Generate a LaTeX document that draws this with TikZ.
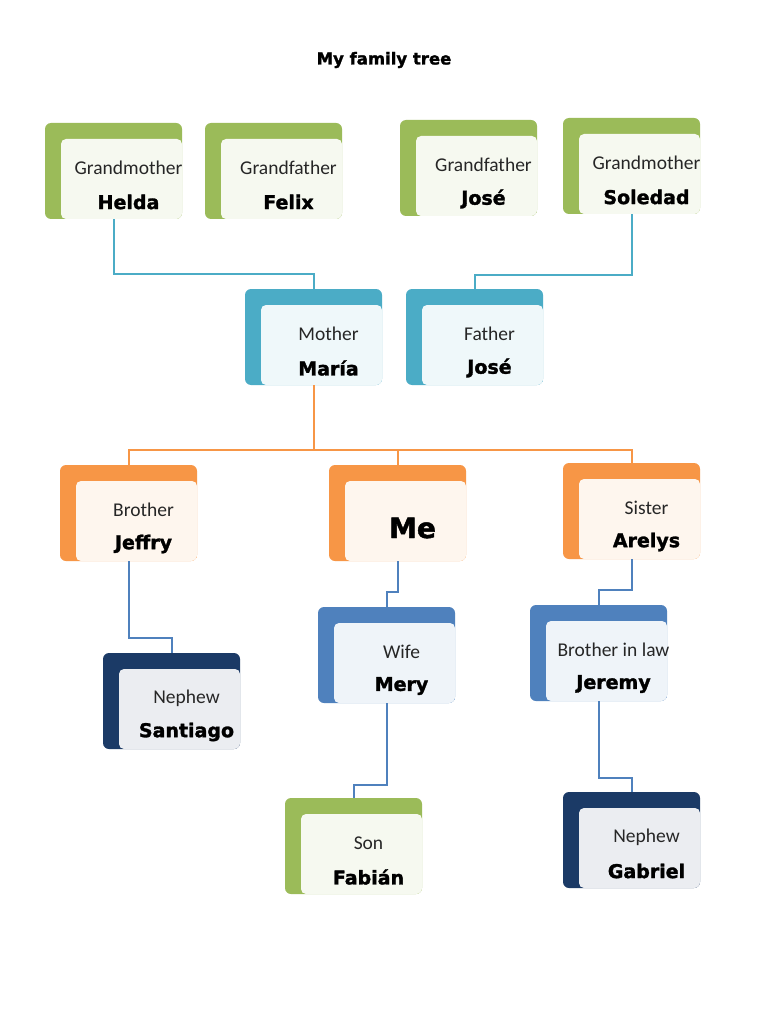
\documentclass[tikz,border=0pt]{standalone}
\usepackage{fontspec}
\setmainfont{Carlito}
\newfontfamily\namefont[BoldFont={DejaVu Sans Bold}, BoldFeatures={FakeBold=1.6}]{DejaVu Sans}
\usepackage{tikz}
\usepackage{xcolor}

\definecolor{treegreen}{HTML}{9BBB59}
\definecolor{treeteal}{HTML}{4BACC6}
\definecolor{treeorange}{HTML}{F79646}
\definecolor{treeblue}{HTML}{4F81BD}
\definecolor{treenavy}{HTML}{1B3A66}

\tikzset{
  memberbox/.style={rectangle, rounded corners=6pt, fill=#1, minimum width=137pt, minimum height=96pt,
    path picture={\fill[#1!9, rounded corners=5pt] ([xshift=16pt,yshift=-16pt]path picture bounding box.north west) rectangle (path picture bounding box.south east);}},
  rolestyle/.style={font=\fontsize{19.5}{21}\selectfont, text=black!85, inner sep=0pt},
  namestyle/.style={font=\namefont\bfseries\fontsize{19}{21}\selectfont, inner sep=0pt},
  link/.style={line width=2pt, draw=#1}
}

% one member of the tree: id, position, colour, role, name
\newcommand{\member}[5]{%
  \node[memberbox=#3] (#1) at #2 {};
  \node[rolestyle] (#1-role) at ([shift={(15,-3)}]#1.center) {#4};
  \node[namestyle] (#1-name) at ([shift={(15,31)}]#1.center) {#5};
}

\begin{document}
\begin{tikzpicture}[x=1pt, y=-1pt]
\useasboundingbox[fill=white] (0,0) rectangle (768,1024);

\node[font=\namefont\bfseries\fontsize{16.5}{18}\selectfont] (title) at (384,60) {My family tree};

% grandparents
\member{helda}{(113.5,171)}{treegreen}{Grandmother}{Helda}
\member{felix}{(273.5,171)}{treegreen}{Grandfather}{Felix}
\member{grandjose}{(468.5,168)}{treegreen}{Grandfather}{José}
\member{soledad}{(631.5,166)}{treegreen}{Grandmother}{Soledad}

% parents
\member{maria}{(313.5,337)}{treeteal}{Mother}{María}
\member{jose}{(474.5,337)}{treeteal}{Father}{José}

% children
\member{jeffry}{(128.5,513)}{treeorange}{Brother}{Jeffry}
\node[memberbox=treeorange] (me) at (397.5,513) {};
\node[namestyle, font=\namefont\bfseries\fontsize{28}{30}\selectfont] (me-name) at ([shift={(15,15)}]me.center) {Me};
\member{arelys}{(631.5,511)}{treeorange}{Sister}{Arelys}

% partners and nephews
\member{santiago}{(171.5,701)}{treenavy}{Nephew}{Santiago}
\member{mery}{(386.5,655)}{treeblue}{Wife}{Mery}
\member{jeremy}{(598.5,653)}{treeblue}{Brother in law}{Jeremy}
\member{fabian}{(353.5,846)}{treegreen}{Son}{Fabián}
\member{gabriel}{(631.5,840)}{treenavy}{Nephew}{Gabriel}

% connectors
\draw[link=treeteal] (helda.south) -- ++(0,55) -| (maria.north);
\draw[link=treeteal] (soledad.south) -- ++(0,61) -| (jose.north);

\draw[link=treeorange] (maria.south) -- ++(0,65) coordinate (fork);
\draw[link=treeorange] (jeffry.north) |- (fork) -| (arelys.north);
\draw[link=treeorange] (fork -| me.north) -- (me.north);

\draw[link=treeblue] (jeffry.south) -- ++(0,77) -| (santiago.north);
\draw[link=treeblue] (me.south) -- ++(0,31) -| (mery.north);
\draw[link=treeblue] (arelys.south) -- ++(0,31) -| (jeremy.north);
\draw[link=treeblue] (mery.south) -- ++(0,82) -| (fabian.north);
\draw[link=treeblue] (jeremy.south) -- ++(0,77) -| (gabriel.north);
\end{tikzpicture}
\end{document}
